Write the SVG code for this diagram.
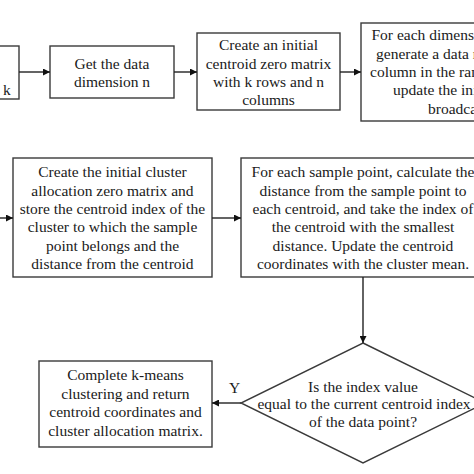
<svg xmlns="http://www.w3.org/2000/svg" width="474" height="474" viewBox="0 0 474 474">
<style>
.box{fill:#fff;stroke:#3a3a3a;stroke-width:1.4}
.t{font-family:"Liberation Serif","Times New Roman",serif;font-size:15.5px;fill:#1a1a1a;text-anchor:middle}
.ts{font-family:"Liberation Serif","Times New Roman",serif;font-size:15.5px;fill:#1a1a1a;text-anchor:start}
.c{stroke:#222;stroke-width:1.4;fill:none;marker-end:url(#ah)}
</style>
<defs>
<marker id="ah" viewBox="0 0 10 10" refX="10" refY="5" markerWidth="7" markerHeight="7" markerUnits="userSpaceOnUse" orient="auto">
<path d="M0,0 L10,5 L0,10 z" fill="#111"/>
</marker>
</defs>
<rect width="474" height="474" fill="#fff"/>
<g id="n1">
<rect class="box" x="-20" y="46" width="39" height="53"/>
<text class="ts" x="3" y="95">k</text>
</g>
<g id="n2">
<rect class="box" x="50" y="46" width="124" height="52"/>
<text class="t" x="112" y="68.5">Get the data</text>
<text class="t" x="112" y="87">dimension n</text>
</g>
<g id="n3">
<rect class="box" x="197" y="33" width="143" height="77"/>
<text class="t" x="268.5" y="50">Create an initial</text>
<text class="t" x="268.5" y="68.5">centroid zero matrix</text>
<text class="t" x="268.5" y="87">with k rows and n</text>
<text class="t" x="268.5" y="105">columns</text>
</g>
<g id="n4">
<rect class="box" x="361" y="23" width="140" height="98"/>
<text class="ts" x="371.5" y="40">For each dimension,</text>
<text class="ts" x="376" y="58.5">generate a data randomly</text>
<text class="ts" x="370" y="77">column in the range of</text>
<text class="ts" x="393" y="95">update the initial</text>
<text class="ts" x="428" y="113.5">broadcast</text>
</g>
<g id="n5">
<rect class="box" x="13" y="158" width="199" height="119"/>
<text class="t" x="112.5" y="177">Create the initial cluster</text>
<text class="t" x="112.5" y="195.5">allocation zero matrix and</text>
<text class="t" x="112.5" y="213.5">store the centroid index of the</text>
<text class="t" x="112.5" y="232">cluster to which the sample</text>
<text class="t" x="112.5" y="250.5">point belongs and the</text>
<text class="t" x="112.5" y="268.5">distance from the centroid</text>
</g>
<g id="n6">
<rect class="box" x="241" y="158" width="244" height="119"/>
<text class="t" x="363" y="177">For each sample point, calculate the</text>
<text class="t" x="363" y="195.5">distance from the sample point to</text>
<text class="t" x="363" y="213.5">each centroid, and take the index of</text>
<text class="t" x="363" y="232">the centroid with the smallest</text>
<text class="t" x="363" y="250.5">distance. Update the centroid</text>
<text class="t" x="363" y="268.5">coordinates with the cluster mean.</text>
</g>
<g id="n7">
<polygon class="box" points="363,343 485,403 363,463 241,403"/>
<text class="t" x="363" y="391.5">Is the index value</text>
<text class="t" x="364" y="408.5">equal to the current centroid index</text>
<text class="t" x="363" y="426.5">of the data point?</text>
</g>
<g id="n8">
<rect class="box" x="39" y="361" width="173" height="86"/>
<text class="t" x="125.5" y="380">Complete k-means</text>
<text class="t" x="125.5" y="398.5">clustering and return</text>
<text class="t" x="125.5" y="417">centroid coordinates and</text>
<text class="t" x="125.5" y="435.5">cluster allocation matrix.</text>
</g>
<g id="connectors">
<line class="c" x1="19" y1="72" x2="50" y2="72"/>
<line class="c" x1="174" y1="72" x2="197" y2="72"/>
<line class="c" x1="340" y1="72" x2="361" y2="72"/>
<line class="c" x1="-5" y1="218" x2="13" y2="218"/>
<line class="c" x1="212" y1="218" x2="241" y2="218"/>
<line class="c" x1="363" y1="277" x2="363" y2="343"/>
<line class="c" x1="241" y1="403" x2="212" y2="403"/>
<text class="ts" x="229" y="393">Y</text>
</g>
</svg>
